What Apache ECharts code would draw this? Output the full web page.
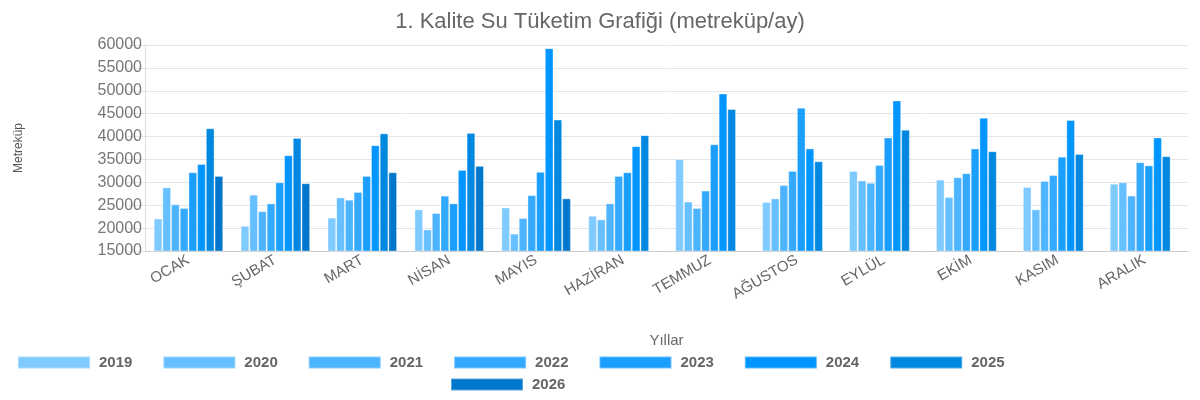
<!DOCTYPE html>
<html>
<head>
<meta charset="utf-8">
<script src="https://cdn.jsdelivr.net/npm/echarts@6/dist/echarts.min.js"></script>
<style>
html,body{margin:0;padding:0;background:#fff;}
#chart{width:1200px;height:400px;}
</style>
</head>
<body>
<div id="chart"></div>
<script>
const months = ['OCAK','ŞUBAT','MART','NİSAN','MAYIS','HAZİRAN','TEMMUZ','AĞUSTOS','EYLÜL','EKİM','KASIM','ARALIK'];
const years = ['2019','2020','2021','2022','2023','2024','2025','2026'];
const y2019 = [22100, 20500, 22300, 24100, 24500, 22700, 35100, 25700, 32500, 30600, 29000, 29700];
const y2020 = [28900, 27300, 26700, 19700, 18800, 21900, 25800, 26500, 30400, 26800, 24100, 30000];
const y2021 = [25200, 23700, 26200, 23300, 22200, 25400, 24400, 29400, 29900, 31100, 30300, 27100];
const y2022 = [24400, 25400, 27900, 27100, 27200, 31400, 28200, 32500, 33800, 32000, 31600, 34400];
const y2023 = [32200, 30000, 31400, 25400, 32300, 32200, 38300, 46300, 39800, 37400, 35600, 33700];
const y2024 = [34000, 35900, 38100, 32700, 59300, 37900, 49400, 37400, 47900, 44100, 43600, 39800];
const y2025 = [41800, 39700, 40700, 40800, 43700, 40300, 46000, 34600, 41500, 36800, 36200, 35700];
const y2026 = [31400, 29800, 32200, 33600, 26500, null, null, null, null, null, null, null];
const yTicks = [15000, 20000, 25000, 30000, 35000, 40000, 45000, 50000, 55000, 60000];

const seriesData = [y2019, y2020, y2021, y2022, y2023, y2024, y2025, y2026];
const colors = ['#7fcaff','#66bfff','#4db4ff','#33aaff','#1a9fff','#0095ff','#0088e0','#0077cc'];
const FONT = '"Liberation Sans", Arial, sans-serif';

const chart = echarts.init(document.getElementById('chart'), null, {renderer:'canvas'});
chart.setOption({
  animation: false,
  color: colors,
  textStyle: {fontFamily: FONT},
  title: {
    text: '1. Kalite Su Tüketim Grafiği (metreküp/ay)',
    left: 'center', top: 6,
    textStyle: {fontSize: 22, fontWeight: 'normal', color: '#666', fontFamily: FONT}
  },
  legend: [
    {
      data: years.slice(0, 7),
      left: 17, top: 355, padding: 0,
      icon: 'rect', itemWidth: 72, itemHeight: 12, itemGap: 30,
      textStyle: {fontSize: 15, fontWeight: 'bold', color: '#666', fontFamily: FONT, padding:[0,0,0,4]}
    },
    {
      data: years.slice(7),
      left: 450, top: 377, padding: 0,
      icon: 'rect', itemWidth: 72, itemHeight: 12,
      textStyle: {fontSize: 15, fontWeight: 'bold', color: '#666', fontFamily: FONT, padding:[0,0,0,4]}
    }
  ],
  grid: {left: 145, right: 12, top: 45, bottom: 149, containLabel: false},
  xAxis: {
    type: 'category',
    data: months,
    name: 'Yıllar',
    nameLocation: 'middle',
    nameGap: 82,
    nameTextStyle: {fontSize: 15, color: '#666'},
    axisLine: {show: true, lineStyle: {color: '#ccc'}},
    axisTick: {show: false},
    axisLabel: {rotate: 30, fontSize: 15, color: '#666', margin: 8, interval: 0}
  },
  yAxis: {
    type: 'value',
    min: yTicks[0], max: yTicks[yTicks.length - 1], interval: 5000,
    name: 'Metreküp',
    nameLocation: 'middle',
    nameGap: 120,
    nameRotate: 90,
    nameTextStyle: {fontSize: 12, color: '#555'},
    axisLine: {show: true, lineStyle: {color: '#ddd'}},
    axisTick: {show: true, length: 18, lineStyle: {color: '#e5e5e5'}},
    axisLabel: {fontSize: 16, color: '#777', margin: 3, formatter: v => String(v)},
    splitLine: {show: true, lineStyle: {color: '#e5e5e5'}}
  },
  series: years.map((y, i) => ({
    name: y,
    type: 'bar',
    data: seriesData[i],
    barGap: '0%',
    barCategoryGap: '20%',
    itemStyle: {color: colors[i], borderColor: 'rgba(255,255,255,0.35)', borderWidth: 1}
  }))
});
</script>
</body>
</html>
